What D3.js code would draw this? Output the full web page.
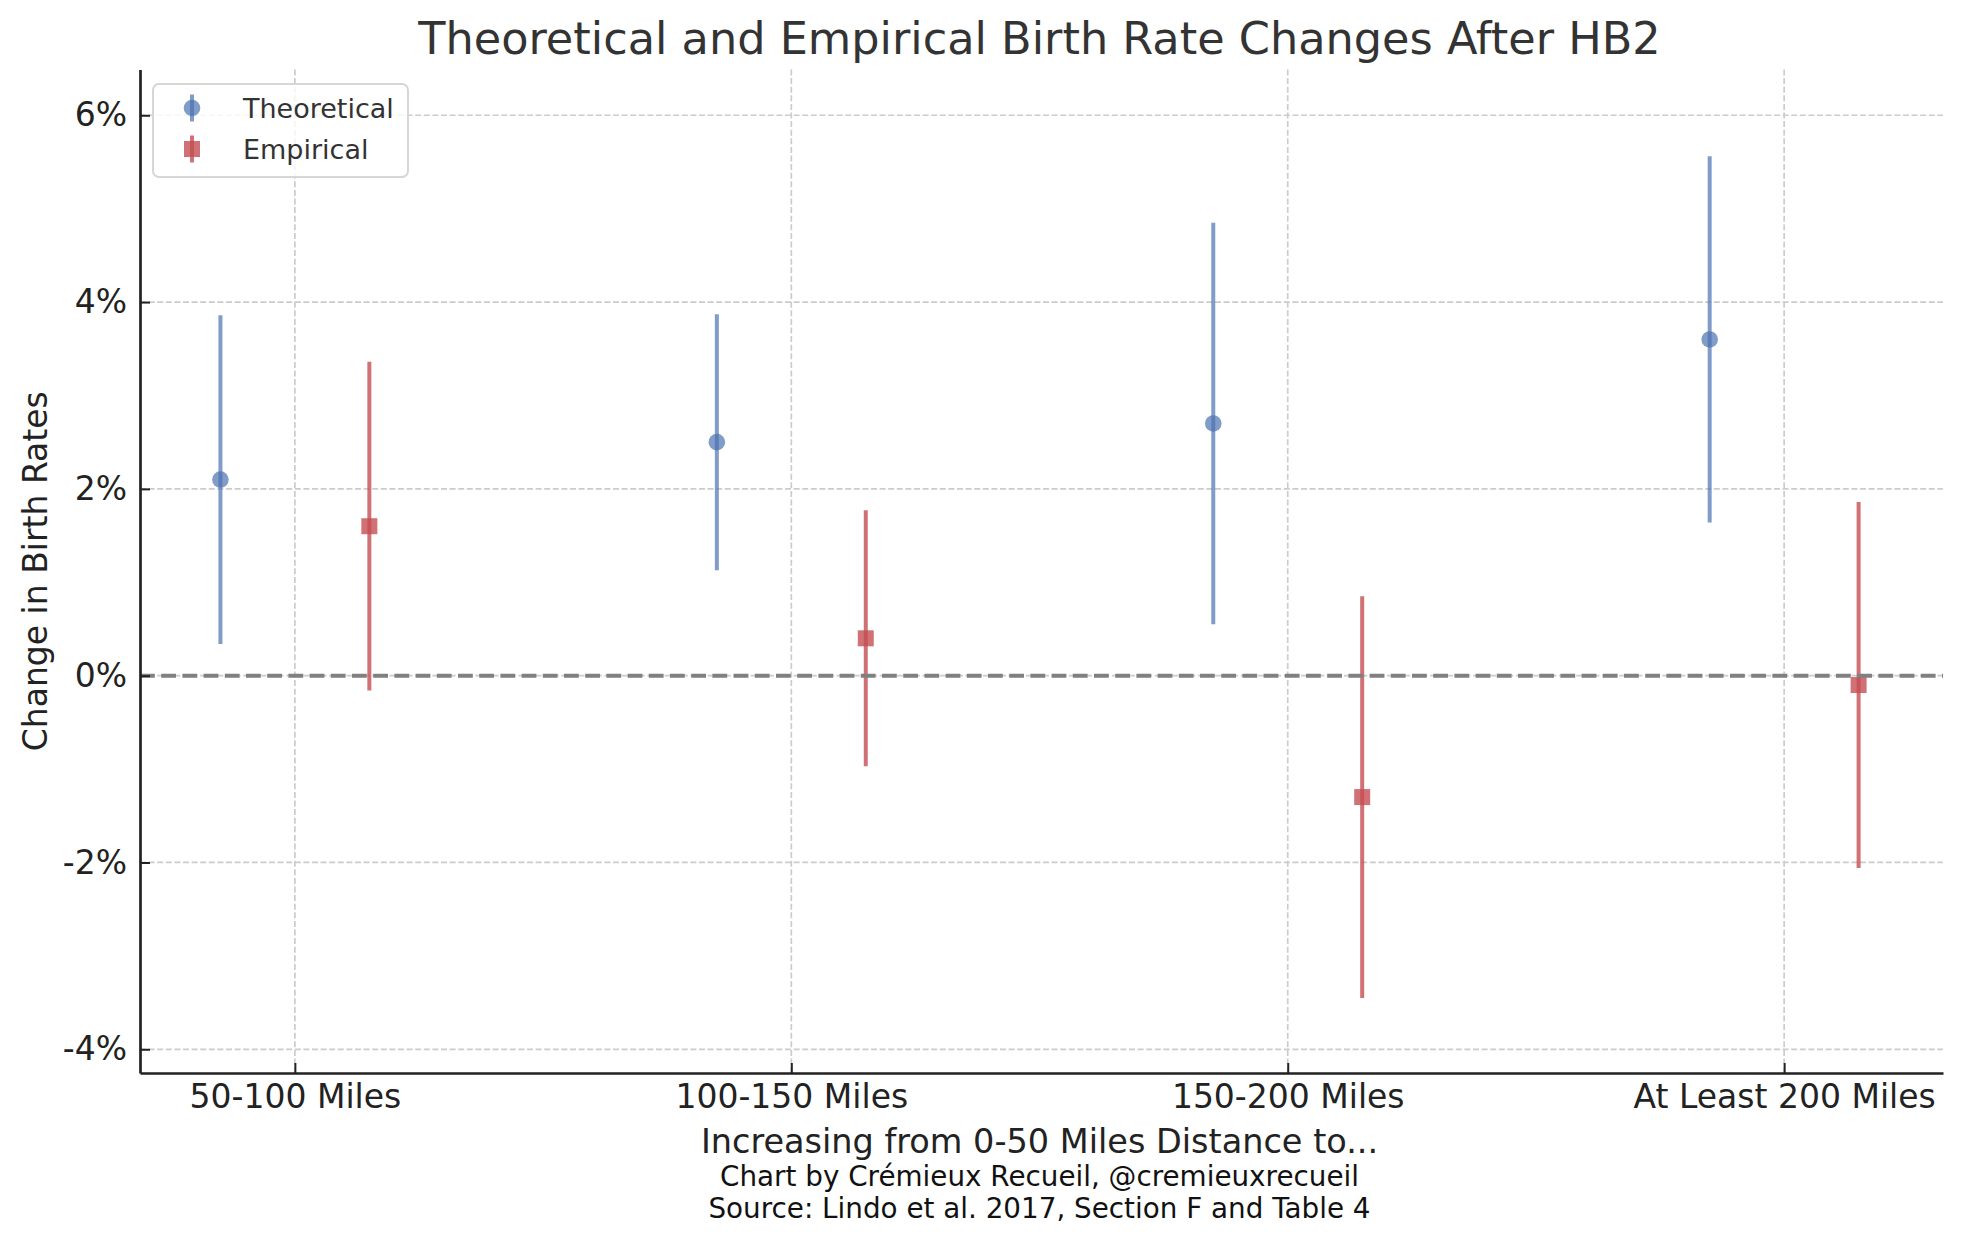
<!DOCTYPE html>
<html>
<head>
<meta charset="utf-8">
<script src="https://cdn.jsdelivr.net/npm/d3@7"></script>
<style>
  body { margin: 0; background: #fff; }
  text { font-family: "DejaVu Sans", sans-serif; }
</style>
</head>
<body>
<div id="chart"></div>
<script>
// data (percent change in birth rates)
const CATEGORIES = ['50-100 Miles', '100-150 Miles', '150-200 Miles', 'At Least 200 Miles'];
const THEORETICAL = [2.1, 2.5, 2.7, 3.6];
const EMPIRICAL = [1.6, 0.4, -1.3, -0.1];
const ERRORS = [1.76, 1.37, 2.15, 1.96]; // same margin for both series
const Y_TICKS = [-4, -2, 0, 2, 4, 6];

const WIDTH = 1961;
const HEIGHT = 1244;
const LEFT = 140, RIGHT = 1943, TOP = 69.5, BOTTOM = 1073;
const OFFSET = 0.15; // shift of each series around the category

const BLUE = '#4c72b0';
const RED = '#c44e52';

const svg = d3.select('#chart').append('svg')
  .attr('width', WIDTH)
  .attr('height', HEIGHT);

const x = d3.scaleLinear().domain([-0.312, 3.32]).range([LEFT, RIGHT]);
const y = d3.scaleLinear().domain([-4.254, 6.49]).range([BOTTOM, TOP]);

// grid
const grid = svg.append('g')
  .attr('stroke', '#cccccc')
  .attr('stroke-width', 1.7)
  .attr('stroke-dasharray', '6,2.6');

grid.selectAll('.hgrid')
  .data(Y_TICKS)
  .enter()
  .append('line')
  .attr('x1', LEFT).attr('x2', RIGHT)
  .attr('y1', d => y(d)).attr('y2', d => y(d));

grid.selectAll('.vgrid')
  .data(CATEGORIES)
  .enter()
  .append('line')
  .attr('x1', (d, i) => x(i)).attr('x2', (d, i) => x(i))
  .attr('y1', TOP).attr('y2', BOTTOM);

// one group per series
const series = [
  { name: 'Theoretical', values: THEORETICAL, color: BLUE, opacity: 0.7, shift: -OFFSET, shape: 'circle' },
  { name: 'Empirical', values: EMPIRICAL, color: RED, opacity: 0.8, shift: OFFSET, shape: 'square' }
];

series.forEach(s => {
  const g = svg.append('g');
  const rows = s.values.map((v, i) => ({ i, v, e: ERRORS[i] }));

  g.selectAll('line')
    .data(rows)
    .enter()
    .append('line')
    .attr('x1', d => x(d.i + s.shift))
    .attr('x2', d => x(d.i + s.shift))
    .attr('y1', d => y(d.v - d.e))
    .attr('y2', d => y(d.v + d.e))
    .attr('stroke', s.color)
    .attr('stroke-opacity', s.opacity)
    .attr('stroke-width', 4);

  if (s.shape === 'circle') {
    g.selectAll('circle')
      .data(rows)
      .enter()
      .append('circle')
      .attr('cx', d => x(d.i + s.shift))
      .attr('cy', d => y(d.v))
      .attr('r', 8.3)
      .attr('fill', s.color)
      .attr('fill-opacity', s.opacity);
  } else {
    g.selectAll('rect')
      .data(rows)
      .enter()
      .append('rect')
      .attr('x', d => x(d.i + s.shift) - 8)
      .attr('y', d => y(d.v) - 8)
      .attr('width', 16)
      .attr('height', 16)
      .attr('fill', s.color)
      .attr('fill-opacity', s.opacity);
  }
});

// zero reference line
svg.append('line')
  .attr('x1', LEFT).attr('x2', RIGHT)
  .attr('y1', y(0)).attr('y2', y(0))
  .attr('stroke', '#808080')
  .attr('stroke-width', 4)
  .attr('stroke-dasharray', '14.8,6.4');

// axes
const xAxis = d3.axisBottom(x)
  .tickValues(d3.range(CATEGORIES.length))
  .tickFormat(i => CATEGORIES[i])
  .tickSizeInner(-10)
  .tickSizeOuter(0)
  .tickPadding(12);

const yAxis = d3.axisLeft(y)
  .tickValues(Y_TICKS)
  .tickFormat(d => `${d}%`)
  .tickSizeInner(-10)
  .tickSizeOuter(0)
  .tickPadding(13);

const gx = svg.append('g')
  .attr('transform', `translate(0,${BOTTOM})`)
  .call(xAxis);

const gy = svg.append('g')
  .attr('transform', `translate(${LEFT},0)`)
  .call(yAxis);

[gx, gy].forEach(g => {
  g.select('.domain').attr('stroke', '#222').attr('stroke-width', 2.7);
  g.selectAll('.tick line').attr('stroke', '#222').attr('stroke-width', 2);
  g.selectAll('.tick text')
    .attr('fill', '#222')
    .style('font-size', '33px')
    .style('font-family', '"DejaVu Sans", sans-serif');
});

// titles
svg.append('text')
  .attr('x', (LEFT + RIGHT) / 2 - 2)
  .attr('y', 54)
  .attr('text-anchor', 'middle')
  .attr('fill', '#333')
  .style('font-size', '44.6px')
  .text('Theoretical and Empirical Birth Rate Changes After HB2');

svg.append('text')
  .attr('transform', `translate(35,${(TOP + BOTTOM) / 2}) rotate(-90)`)
  .attr('text-anchor', 'middle')
  .attr('dominant-baseline', 'central')
  .attr('fill', '#222')
  .style('font-size', '33px')
  .text('Change in Birth Rates');

const footer = [
  { text: 'Increasing from 0-50 Miles Distance to...', y: 1153, size: 33.5 },
  { text: 'Chart by Crémieux Recueil, @cremieuxrecueil', y: 1186, size: 27.8 },
  { text: 'Source: Lindo et al. 2017, Section F and Table 4', y: 1218, size: 27.8 }
];

svg.selectAll('.footer')
  .data(footer)
  .enter()
  .append('text')
  .attr('x', (LEFT + RIGHT) / 2 - 2)
  .attr('y', d => d.y)
  .attr('text-anchor', 'middle')
  .attr('fill', d => d.size > 30 ? '#222' : '#111')
  .style('font-size', d => `${d.size}px`)
  .text(d => d.text);

// legend
const legend = svg.append('g');

legend.append('rect')
  .attr('x', 153).attr('y', 84)
  .attr('width', 255).attr('height', 93)
  .attr('rx', 6)
  .attr('fill', 'white')
  .attr('fill-opacity', 0.8)
  .attr('stroke', '#d6d6d6')
  .attr('stroke-width', 2);

const items = legend.selectAll('.item')
  .data(series)
  .enter()
  .append('g')
  .attr('transform', (d, i) => `translate(192,${108 + i * 41})`);

items.append('line')
  .attr('y1', -13.5).attr('y2', 13.5)
  .attr('stroke', d => d.color)
  .attr('stroke-opacity', d => d.opacity)
  .attr('stroke-width', 4);

items.filter(d => d.shape === 'circle')
  .append('circle')
  .attr('r', 8.3)
  .attr('fill', d => d.color)
  .attr('fill-opacity', d => d.opacity);

items.filter(d => d.shape === 'square')
  .append('rect')
  .attr('x', -8).attr('y', -8)
  .attr('width', 16).attr('height', 16)
  .attr('fill', d => d.color)
  .attr('fill-opacity', d => d.opacity);

items.append('text')
  .attr('x', 51)
  .attr('dominant-baseline', 'central')
  .attr('fill', '#333')
  .style('font-size', '27px')
  .text(d => d.name);
</script>
</body>
</html>
